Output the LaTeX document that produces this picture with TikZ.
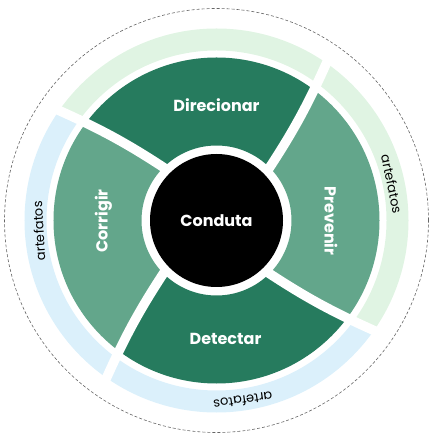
\documentclass[tikz,border=0pt]{standalone}
\usepackage{fontspec}
\newfontfamily\labelfont{Poppins}
\definecolor{darkseg}{HTML}{267B5E}
\definecolor{lightseg}{HTML}{63A68B}
\definecolor{paleband}{HTML}{E0F4E3}
\definecolor{blueband}{HTML}{DBF0FB}
\tikzset{
  seglabel/.style={text=white, font=\labelfont\bfseries\fontsize{16}{18}\selectfont, inner sep=0pt},
  artlabel/.style={text=black, font=\labelfont\fontsize{13}{15}\selectfont, inner sep=0pt},
  gapline/.style={white, line width=9.5pt},
  ringline/.style={gray!80!black, line width=0.6pt, dash pattern=on 3pt off 2pt}
}
\newcommand\wedgepath{(0pt,0pt) -- (-48:60pt) to[bend right=5] (-34.5:200pt) arc[start angle=-34.5, end angle=55.5, radius=200pt] to[bend left=5] (42:60pt) -- cycle}
\newcommand\segcolorfill[3]{%
  \begin{scope}[rotate=#1]
    \begin{scope}
      \clip \wedgepath;
      \fill[#2, even odd rule] (0pt,0pt) circle[radius=163pt] (0pt,0pt) circle[radius=75pt];
      \fill[#3, even odd rule] (0pt,0pt) circle[radius=192pt] (0pt,0pt) circle[radius=170pt];
    \end{scope}
  \end{scope}}
\begin{document}
\begin{tikzpicture}
\useasboundingbox (-216.5pt,-222.5pt) rectangle (219.5pt,220.5pt);
% outer dashed ring
\draw[ringline] (0pt,0pt) circle[radius=212pt];
% segments and bands
\segcolorfill{0}{lightseg}{paleband}
\segcolorfill{90}{darkseg}{paleband}
\segcolorfill{180}{lightseg}{blueband}
\segcolorfill{270}{darkseg}{blueband}
% gaps
\foreach \k in {0,1,2,3}{
  \draw[gapline, rotate=90*\k] (42:60pt) to[bend right=5] (55.5:200pt);
}
% centre
\node[circle, fill=black, minimum size=133pt, inner sep=0pt, text=white, font=\labelfont\bfseries\fontsize{16}{18}\selectfont] (conduta) at (0pt,0pt) {Conduta};
% labels
\node[seglabel] (direcionar) at (0pt,115pt) {Direcionar};
\node[seglabel, rotate=-90] (prevenir) at (114.5pt,-0.5pt) {Prevenir};
\node[seglabel, rotate=90] (corrigir) at (-113pt,-0.5pt) {Corrigir};
\node[seglabel] (detectar) at (9pt,-118.5pt) {Detectar};
\node[artlabel, rotate=-78.2] (art1) at (11.8:179pt) {artefatos};
\node[artlabel, rotate=93.4] (art2) at (183.4:178pt) {artefatos};
\node[artlabel, rotate=188.4] (art3) at (278.4:182pt) {artefatos};
\end{tikzpicture}
\end{document}
